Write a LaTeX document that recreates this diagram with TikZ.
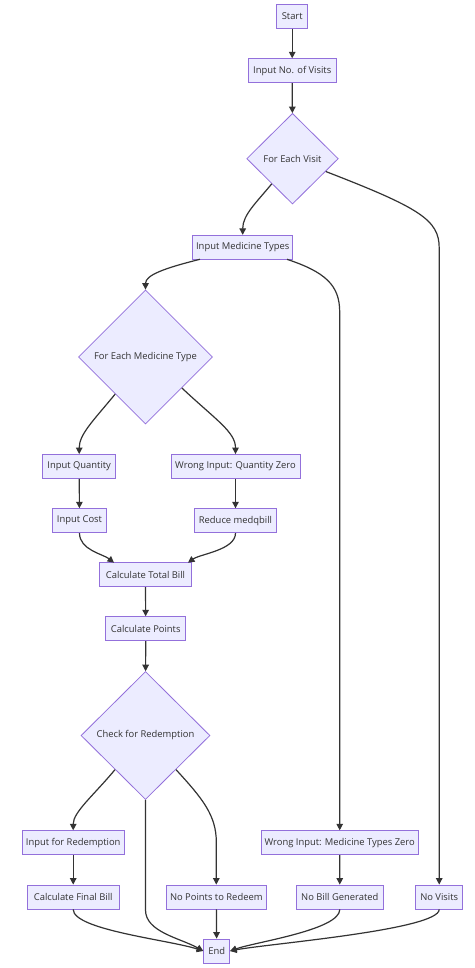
\documentclass[tikz,border=0pt]{standalone}
\usepackage{fontspec}
\setmainfont{Open Sans}
\usetikzlibrary{shapes.geometric,arrows.meta,calc}
\definecolor{nodefill}{HTML}{ECECFF}
\definecolor{nodeline}{HTML}{9370DB}
\definecolor{edgecol}{HTML}{333333}
\begin{document}
\begin{tikzpicture}[x=1pt,y=-1pt,
  box/.style={draw=nodeline, fill=nodefill, line width=0.8pt, inner sep=0pt,
    minimum height=24pt, text=edgecol, font=\fontsize{9.4}{10}\selectfont},
  dia/.style={diamond, draw=nodeline, fill=nodefill, line width=0.8pt, inner sep=0pt,
    text=edgecol, font=\fontsize{9.4}{10}\selectfont},
  arr/.style={draw=edgecol, line width=1.2pt, -{Triangle[length=6.5pt,width=6.5pt]}},
]
\useasboundingbox (0,0) rectangle (474,968);
\fill[white] (0,0) rectangle (474,968);

% nodes
\node[box, minimum width=31pt] (start) at (292.2,16.3) {Start};
\node[box, minimum width=88pt] (inv) at (292.2,70.7) {Input No. of Visits};
\node[dia, minimum width=91.6pt, minimum height=90.7pt] (fev) at (292.5,158.7) {For Each Visit};
\node[box, minimum width=100pt] (imt) at (242.7,247.3) {Input Medicine Types};
\node[dia, minimum width=134pt, minimum height=134pt] (femt) at (145.5,357) {For Each Medicine Type};
\node[box, minimum width=73pt] (iq) at (79.2,466.5) {Input Quantity};
\node[box, minimum width=129pt] (wiqz) at (235.5,466.5) {Wrong Input: Quantity Zero};
\node[box, minimum width=54pt] (ic) at (79.5,520.7) {Input Cost};
\node[box, minimum width=82pt] (rm) at (235.5,520.7) {Reduce medqbill};
\node[box, minimum width=92pt] (ctb) at (145.5,574.7) {Calculate Total Bill};
\node[box, minimum width=80pt] (cp) at (145.7,628.7) {Calculate Points};
\node[dia, minimum width=129pt, minimum height=128pt] (cfr) at (145.5,735.5) {Check for Redemption};
\node[box, minimum width=102pt] (ifr) at (73.2,842.7) {Input for Redemption};
\node[box, minimum width=92pt] (cfb) at (73.2,897) {Calculate Final Bill};
\node[box, minimum width=100pt] (npr) at (216.3,897) {No Points to Redeem};
\node[box, minimum width=157pt] (wimtz) at (339.7,842.7) {Wrong Input: Medicine Types Zero};
\node[box, minimum width=87pt] (nbg) at (339.8,897) {No Bill Generated};
\node[box, minimum width=47pt] (nv) at (439.2,897) {No Visits};
\node[box, minimum width=26pt] (end) at (216.7,951) {End};

% connectors
\draw[arr] (start) -- (inv);
\draw[arr] (inv) -- (fev);
\draw[arr] ($(fev.west)!0.55!(fev.south)$) .. controls (256,203) and (242.7,215) .. (imt.north);
\draw[arr] ($(fev.east)!0.28!(fev.south)$) .. controls (420,208) and (439.2,220) .. (439.2,248) -- (nv.north);
\draw[arr] (200,259.3) .. controls (165,268) and (145.5,275) .. (femt.north);
\draw[arr] (287,259.3) .. controls (325,272) and (339.7,285) .. (339.7,312) -- (wimtz.north);
\draw[arr] ($(femt.west)!0.55!(femt.south)$) .. controls (94,420) and (79.2,434) .. (iq.north);
\draw[arr] ($(femt.east)!0.46!(femt.south)$) .. controls (216,420) and (235.5,432) .. (wiqz.north);
\draw[arr] (iq) -- (ic);
\draw[arr] (wiqz) -- (rm);
\draw[arr] (ic.south) .. controls (79.5,550) and (103,554) .. (114,562.7);
\draw[arr] (rm.south) .. controls (235.5,550) and (200,554) .. (188,562.7);
\draw[arr] (ctb) -- (cp);
\draw[arr] (cp) -- (cfr);
\draw[arr] ($(cfr.west)!0.53!(cfr.south)$) .. controls (94,795) and (73.2,812) .. (ifr.north);
\draw[arr] ($(cfr.east)!0.53!(cfr.south)$) .. controls (202,798) and (216.3,815) .. (216.3,842) -- (npr.north);
\draw[arr] (cfr.south) -- (145.5,910) .. controls (145.5,932) and (180,938) .. (end.west);
\draw[arr] (ifr) -- (cfb);
\draw[arr] (cfb.south) .. controls (73.2,930) and (170,940) .. (end.west);
\draw[arr] (npr) -- (end);
\draw[arr] (wimtz) -- (nbg);
\draw[arr] (nbg.south) .. controls (339.8,930) and (255,942) .. (end.east);
\draw[arr] (nv.south) .. controls (439.2,930) and (265,944) .. (end.east);
\end{tikzpicture}
\end{document}
